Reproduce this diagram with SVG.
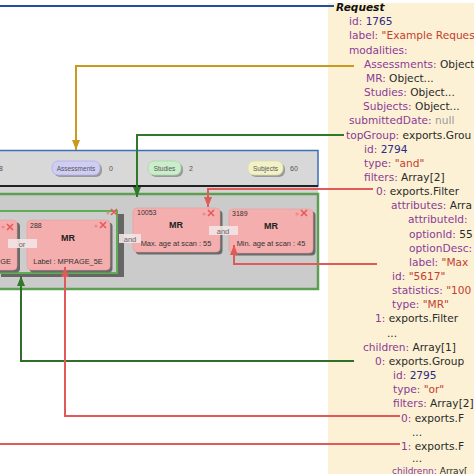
<svg xmlns="http://www.w3.org/2000/svg" width="474" height="474" viewBox="0 0 474 474">
<style>
.t{font-family:"DejaVu Sans",Verdana,sans-serif;font-size:10.6px;fill:#2a2a2a}
.k{fill:#8a3b96}
.n{fill:#2c2a86}
.s{fill:#c2402f}
.g{fill:#9a9a9a}
.pill{stroke-width:0.8}
.pt{font-family:"Liberation Sans",Arial,sans-serif;font-size:6.5px;fill:#555;text-anchor:middle}
.cnt{font-family:"Liberation Sans",Arial,sans-serif;font-size:7px;fill:#555}
.card{fill:#f5aeae;stroke:#e89c9c;stroke-width:0.6}
.sh{fill:#6a6a6a}
.cid{font-family:"Liberation Sans",Arial,sans-serif;font-size:7px;fill:#333}
.mr{font-family:"Liberation Sans",Arial,sans-serif;font-size:9px;font-weight:bold;fill:#222;text-anchor:middle}
.lb{font-family:"Liberation Sans",Arial,sans-serif;font-size:7.4px;fill:#333;text-anchor:middle}
.op{fill:#f3e4e4;opacity:0.9}
.opt{font-family:"Liberation Sans",Arial,sans-serif;font-size:7.5px;fill:#666;text-anchor:middle}
.x{stroke:#e45a5a;stroke-width:1.6;fill:none}
.dot{fill:#f08a8a}
.c{fill:none;stroke-width:2}
</style>
<defs>
<marker id="ag" viewBox="0 0 10 8" refX="10" refY="4" markerWidth="10" markerHeight="8" markerUnits="userSpaceOnUse" orient="auto"><path d="M0,0 L10,4 L0,8 z" fill="#c99a1e"/></marker>
<marker id="agr" viewBox="0 0 10 8" refX="10" refY="4" markerWidth="10" markerHeight="8" markerUnits="userSpaceOnUse" orient="auto"><path d="M0,0 L10,4 L0,8 z" fill="#2f7a2a"/></marker>
<marker id="ar" viewBox="0 0 10 8" refX="10" refY="4" markerWidth="10" markerHeight="8" markerUnits="userSpaceOnUse" orient="auto"><path d="M0,0 L10,4 L0,8 z" fill="#e05a5a"/></marker>
</defs>
<rect width="474" height="474" fill="#fff"/>
<rect x="328" y="3" width="146" height="471" fill="#fcf1d4"/>

<g id="container">
<rect x="-3" y="150" width="321" height="140" fill="#d3d3d3"/>
<rect x="-3" y="150.5" width="321" height="35.5" fill="#d8d8d8" stroke="#3b6fb8" stroke-width="1.5"/>
<line x1="0" y1="186" x2="318" y2="186" stroke="#222" stroke-width="2"/>
</g>
<g id="modalities">
<text class="cnt" x="-1" y="171">8</text>
<rect x="54" y="163" width="48" height="14" rx="6" fill="#999"/>
<rect class="pill" x="52" y="161" width="48" height="14" rx="6" fill="#cfcdf4" stroke="#b0aee2"/>
<text class="pt" x="76" y="170.5">Assessments</text>
<text class="cnt" x="109" y="171">0</text>
<rect x="150" y="163" width="33" height="14" rx="6" fill="#999"/>
<rect class="pill" x="148" y="161" width="33" height="14" rx="6" fill="#caedca" stroke="#a8d8a8"/>
<text class="pt" x="164.5" y="170.5">Studies</text>
<text class="cnt" x="189" y="171">2</text>
<rect x="250" y="163" width="35" height="14" rx="6" fill="#999"/>
<rect class="pill" x="248" y="161" width="35" height="14" rx="6" fill="#f3f2c6" stroke="#dcdca8"/>
<text class="pt" x="265.5" y="170.5">Subjects</text>
<text class="cnt" x="290" y="171">60</text>
</g>

<g id="topGroup">
<rect x="-3" y="194" width="321" height="95" fill="#cbcbcb" stroke="#5c9e52" stroke-width="2.5"/>
</g>

<g id="orGroup">
<rect x="1" y="214" width="123" height="63" fill="#666"/>
<rect x="-3" y="211" width="120" height="62" fill="#cdcdcd" stroke="#5fae55" stroke-width="2"/>
<circle class="dot" cx="108" cy="213" r="1.6"/>
<path class="x" d="M111,209 L117,215 M117,209 L111,215"/>
</g>

<g id="cardLeft">
<rect class="sh" x="-18" y="222.5" width="38" height="50" rx="4"/>
<rect class="card" x="-21" y="220" width="38" height="50" rx="4"/>
<text class="lb" x="11" y="264" style="text-anchor:end">GE</text>
<circle class="dot" cx="3" cy="227" r="1.6"/>
<path class="x" d="M7,224 L13,230 M13,224 L7,230"/>
</g>

<g id="card288">
<rect class="sh" x="29.5" y="222.5" width="83" height="50" rx="4"/>
<rect class="card" x="27" y="220" width="83" height="50" rx="4"/>
<text class="cid" x="30" y="227.5">288</text>
<text class="mr" x="68" y="240.5">MR</text>
<text class="lb" x="68" y="264">Label : MPRAGE_5E</text>
<circle class="dot" cx="96" cy="226" r="1.6"/>
<path class="x" d="M100,222 L106,228 M106,222 L100,228"/>
</g>

<g id="card10053">
<rect class="sh" x="135.5" y="210.5" width="87" height="44" rx="4"/>
<rect class="card" x="133" y="208" width="87" height="44" rx="4"/>
<text class="cid" x="137" y="215">10053</text>
<text class="mr" x="176" y="228">MR</text>
<text class="lb" x="176" y="245.5">Max. age at scan : 55</text>
<circle class="dot" cx="204" cy="214" r="1.6"/>
<path class="x" d="M208,210 L214,216 M214,210 L208,216"/>
</g>

<g id="card3189">
<rect class="sh" x="231.5" y="211.5" width="84" height="44" rx="4"/>
<rect class="card" x="229" y="209" width="84" height="44" rx="4"/>
<text class="cid" x="232" y="215.5">3189</text>
<text class="mr" x="271" y="228.5">MR</text>
<text class="lb" x="271" y="245.5">Min. age at scan : 45</text>
<circle class="dot" cx="297" cy="214" r="1.6"/>
<path class="x" d="M301,210 L307,216 M307,210 L301,216"/>
</g>

<g id="ops">
<rect class="op" x="8" y="239" width="29" height="9"/>
<text class="opt" x="22" y="246.5">or</text>
<rect class="op" x="119" y="234" width="22" height="9"/>
<text class="opt" x="130" y="241.5">and</text>
<rect class="op" x="209" y="226" width="29" height="9"/>
<text class="opt" x="223" y="233.5">and</text>
</g>

<g id="connectors">
<line x1="0" y1="6" x2="334" y2="6" stroke="#1f4f9e" stroke-width="2"/>
<path class="c" d="M354,66 H76 V150" stroke="#c99a1e" marker-end="url(#ag)"/>
<path class="c" d="M344,135 H137 V197" stroke="#2f7a2a" marker-end="url(#agr)"/>
<path class="c" d="M373,189 H208 V207" stroke="#e05a5a" marker-end="url(#ar)"/>
<path class="c" d="M377,264 H234 V245" stroke="#e05a5a" marker-end="url(#ar)"/>
<path class="c" d="M354,361 H21 V276" stroke="#2f6f2a" marker-end="url(#agr)"/>
<path class="c" d="M400,416 H65 V267" stroke="#e05a5a" marker-end="url(#ar)"/>
<path class="c" d="M400,444 H0" stroke="#e05a5a"/>
</g>

<g id="request" class="t">
<text x="336" y="10.5" style="font-weight:bold;font-style:italic;fill:#111">Request</text>
<text x="349" y="25.3"><tspan class="k">id:</tspan> <tspan class="n">1765</tspan></text>
<text x="349" y="39.4"><tspan class="k">label:</tspan> <tspan class="s">"Example Reques</tspan></text>
<text x="349" y="53.6"><tspan class="k">modalities:</tspan></text>
<text x="364" y="67.7"><tspan class="k">Assessments:</tspan> Object</text>
<text x="366" y="81.9"><tspan class="k">MR:</tspan> Object...</text>
<text x="364" y="96"><tspan class="k">Studies:</tspan> Object...</text>
<text x="363" y="110.2"><tspan class="k">Subjects:</tspan> Object...</text>
<text x="349" y="124.3"><tspan class="k">submittedDate:</tspan> <tspan class="g">null</tspan></text>
<text x="346" y="138.5"><tspan class="k">topGroup:</tspan> exports.Grou</text>
<text x="364" y="152.6"><tspan class="k">id:</tspan> <tspan class="n">2794</tspan></text>
<text x="364" y="166.8"><tspan class="k">type:</tspan> <tspan class="s">"and"</tspan></text>
<text x="364" y="180.9"><tspan class="k">filters:</tspan> Array[2]</text>
<text x="376" y="195.1"><tspan class="k">0:</tspan> exports.Filter</text>
<text x="391" y="209.2"><tspan class="k">attributes:</tspan> Arra</text>
<text x="408" y="223.4"><tspan class="k">attributeId:</tspan></text>
<text x="409" y="237.5"><tspan class="k">optionId:</tspan> 55</text>
<text x="409" y="251.7"><tspan class="k">optionDesc:</tspan></text>
<text x="409" y="265.8"><tspan class="k">label:</tspan> <tspan class="s">"Max</tspan></text>
<text x="392" y="280"><tspan class="k">id:</tspan> <tspan class="s">"5617"</tspan></text>
<text x="392" y="294.1"><tspan class="k">statistics:</tspan> <tspan class="s">"100</tspan></text>
<text x="392" y="308.3"><tspan class="k">type:</tspan> <tspan class="s">"MR"</tspan></text>
<text x="375" y="322.4"><tspan class="k">1:</tspan> exports.Filter</text>
<text x="387" y="336.6">...</text>
<text x="363" y="350.7"><tspan class="k">children:</tspan> Array[1]</text>
<text x="375" y="364.9"><tspan class="k">0:</tspan> exports.Group</text>
<text x="393" y="379"><tspan class="k">id:</tspan> <tspan class="n">2795</tspan></text>
<text x="393" y="393.2"><tspan class="k">type:</tspan> <tspan class="s">"or"</tspan></text>
<text x="393" y="407.3"><tspan class="k">filters:</tspan> Array[2]</text>
<text x="401" y="421.5"><tspan class="k">0:</tspan> exports.F</text>
<text x="412" y="435.6">...</text>
<text x="401" y="449.8"><tspan class="k">1:</tspan> exports.F</text>
<text x="412" y="462">...</text>
<text x="392" y="473.5" style="font-size:9px"><tspan class="k">childrenn:</tspan> Array[</text>
</g>
</svg>
